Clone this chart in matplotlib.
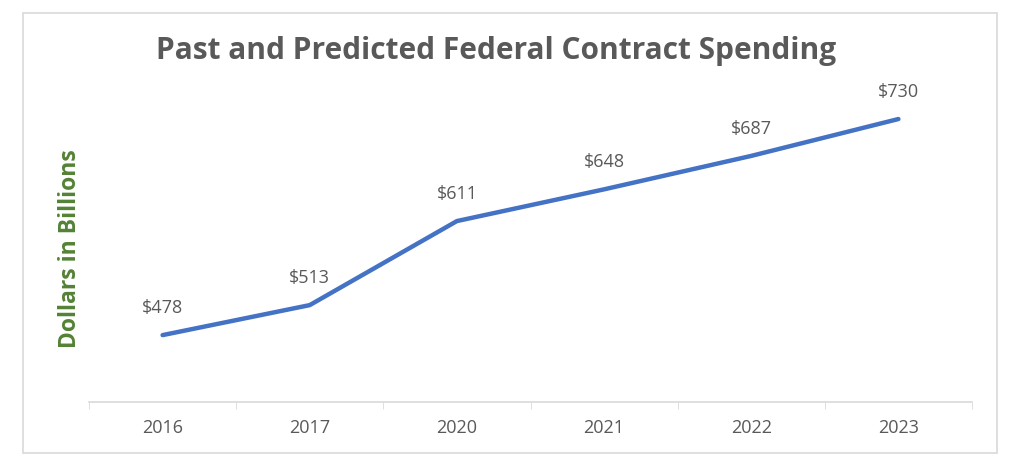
import matplotlib.pyplot as plt
from matplotlib.patches import Rectangle

years = ['2016', '2017', '2020', '2021', '2022', '2023']
spending = [478, 513, 611, 648, 687, 730]

plt.rcParams['font.family'] = ['Open Sans', 'DejaVu Sans']

fig = plt.figure(figsize=(10.24, 4.71), dpi=100)
W, H = 1024, 471

# chart border
fig.patches.append(Rectangle((23 / W, 1 - 453 / H), 974 / W, 440 / H,
                             transform=fig.transFigure, fill=False,
                             edgecolor='#d9d9d9', linewidth=1.2))

ax = fig.add_axes([89 / W, 1 - 402 / H, 883 / W, 343 / H])
x = list(range(len(years)))
ax.plot(x, spending, color='#4472c4', linewidth=3.2, solid_capstyle='round')
for xi, v in zip(x, spending):
    ax.annotate(f'${v}', (xi, v), xytext=(0, 13), textcoords='offset points',
                ha='center', va='bottom', fontsize=13, color='#595959')

ax.set_xlim(-0.5, len(years) - 0.5)
ax.set_ylim(400, 800)
ax.set_xticks(x)
ax.set_xticklabels(years, fontsize=13, color='#595959')
ax.set_xticks([i - 0.5 for i in range(len(years) + 1)], minor=True)
ax.tick_params(axis='x', which='major', length=0, pad=12)
ax.tick_params(axis='x', which='minor', length=5, color='#d9d9d9')
ax.set_yticks([])
for s in ['top', 'right', 'left']:
    ax.spines[s].set_visible(False)
ax.spines['bottom'].set_color('#d9d9d9')
ax.spines['bottom'].set_linewidth(1.2)

fig.text(496 / W, 1 - 51 / H, 'Past and Predicted Federal Contract Spending',
         ha='center', va='center', fontsize=21.5, fontweight='bold', color='#595959')
fig.text(70 / W, 1 - 249 / H, 'Dollars in Billions', rotation=90,
         ha='center', va='center', fontsize=16.5, fontweight='bold', color='#548235')

fig.savefig('out.png', dpi=100)
